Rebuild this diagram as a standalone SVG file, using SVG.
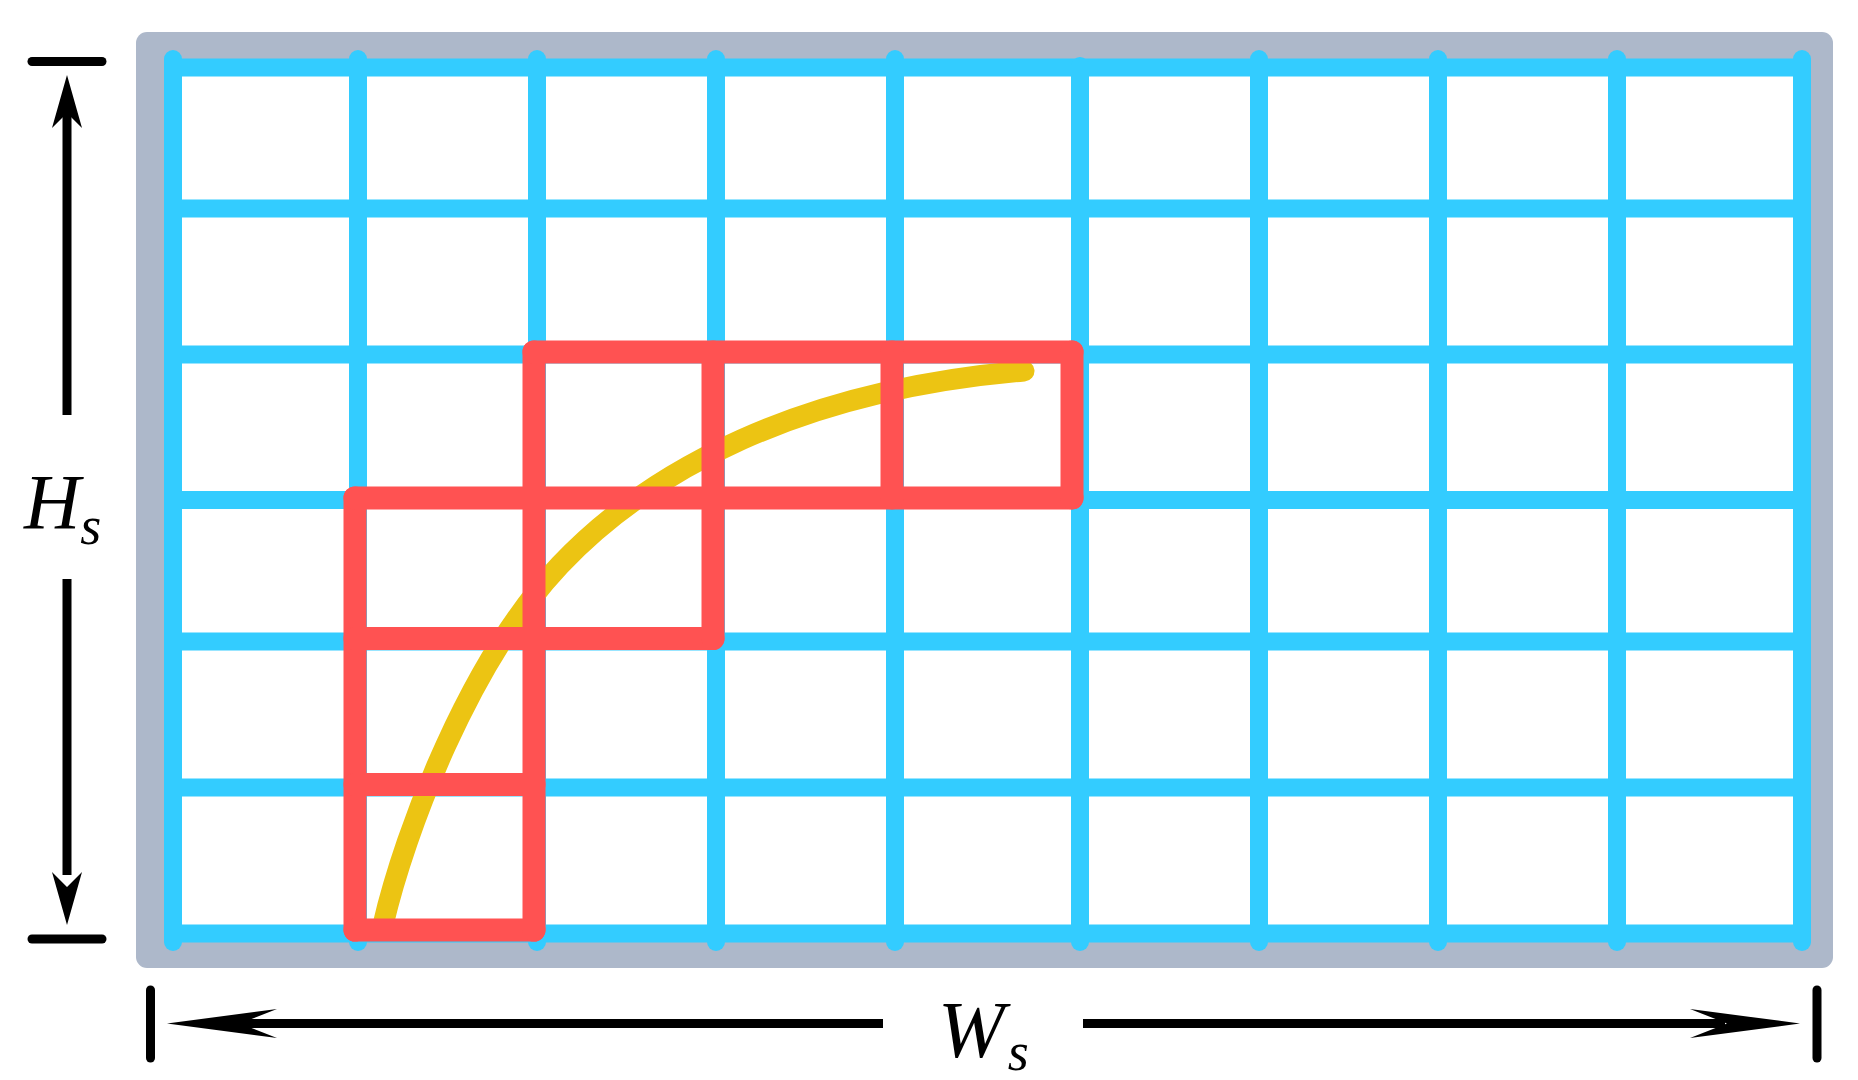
<svg xmlns="http://www.w3.org/2000/svg" width="1858" height="1080" viewBox="0 0 1858 1080">
<style>
.grid line{stroke:#33ccff;stroke-width:18}
.vl{stroke-linecap:round}
.red line{stroke:#ff5252;stroke-width:23;stroke-linecap:round}
.dim{stroke:#000;stroke-width:9;stroke-linecap:round}
.dimline{stroke:#000;stroke-width:9}
.lbl{font-family:"Liberation Serif","Times New Roman",serif;font-style:italic;fill:#000}
</style>
<rect width="1858" height="1080" fill="#ffffff"/>
<g id="screen">
<rect x="136" y="32" width="1697" height="936" rx="11" fill="#adb8ca"/>
<rect x="173" y="67" width="1629" height="867" fill="#ffffff"/>
</g>
<g id="grid" class="grid">
<line x1="164" y1="67.5" x2="1811" y2="67.5"/>
<line x1="164" y1="208.5" x2="1811" y2="208.5"/>
<line x1="164" y1="354.5" x2="1811" y2="354.5"/>
<line x1="164" y1="500" x2="1811" y2="500"/>
<line x1="164" y1="641.5" x2="1811" y2="641.5"/>
<line x1="164" y1="787.5" x2="1811" y2="787.5"/>
<line x1="164" y1="933.5" x2="1811" y2="933.5"/>
<line class="vl" x1="173" y1="59" x2="173" y2="942"/>
<line class="vl" x1="358" y1="59" x2="358" y2="942"/>
<line class="vl" x1="537" y1="59" x2="537" y2="942"/>
<line class="vl" x1="716" y1="59" x2="716" y2="942"/>
<line class="vl" x1="895" y1="59" x2="895" y2="942"/>
<line class="vl" x1="1080" y1="66" x2="1080" y2="942"/>
<line class="vl" x1="1259" y1="59" x2="1259" y2="942"/>
<line class="vl" x1="1438" y1="59" x2="1438" y2="942"/>
<line class="vl" x1="1617" y1="59" x2="1617" y2="942"/>
<line class="vl" x1="1802" y1="59" x2="1802" y2="942"/>
</g>
<g id="curve">
<path d="M383,925 C405,830 470,660 560,565 S800,390 1024,371" fill="none" stroke="#ecc413" stroke-width="21" stroke-linecap="round"/>
</g>
<g id="blocks" class="red">
<line x1="355" y1="498" x2="355" y2="930"/>
<line x1="355" y1="930" x2="534" y2="930"/>
<line x1="355" y1="784.5" x2="534" y2="784.5"/>
<line x1="534" y1="352" x2="534" y2="930"/>
<line x1="355" y1="638.5" x2="713" y2="638.5"/>
<line x1="713" y1="352" x2="713" y2="638.5"/>
<line x1="355" y1="498" x2="1072" y2="498"/>
<line x1="534" y1="352" x2="1072" y2="352"/>
<line x1="892" y1="352" x2="892" y2="498"/>
<line x1="1072" y1="352" x2="1072" y2="498"/>
</g>
<g id="connectors">
<line class="dim" x1="32" y1="61.5" x2="102" y2="61.5"/>
<line class="dim" x1="32" y1="939" x2="102" y2="939"/>
<line class="dimline" x1="67" y1="110" x2="67" y2="415"/>
<line class="dimline" x1="67" y1="579" x2="67" y2="875"/>
<polygon points="67,75 82,128 67,113 52,128" fill="#000"/>
<polygon points="67,925 82,872 67,887 52,872" fill="#000"/>
<line class="dim" x1="150.5" y1="990" x2="150.5" y2="1058"/>
<line class="dim" x1="1817" y1="990" x2="1817" y2="1058"/>
<line class="dimline" x1="240" y1="1023.5" x2="883" y2="1023.5"/>
<line class="dimline" x1="1083" y1="1023.5" x2="1725" y2="1023.5"/>
<polygon points="167,1023.5 277,1009 240,1023.5 277,1038" fill="#000"/>
<polygon points="1800,1023.5 1690,1009 1727,1023.5 1690,1038" fill="#000"/>
</g>
<g id="label-h">
<text class="lbl" x="24" y="528" font-size="78">H<tspan font-size="54" dy="16">s</tspan></text>
</g>
<g id="label-w">
<text class="lbl" x="938" y="1057" font-size="80">W<tspan font-size="54" dy="13" dx="3">s</tspan></text>
</g>
</svg>
